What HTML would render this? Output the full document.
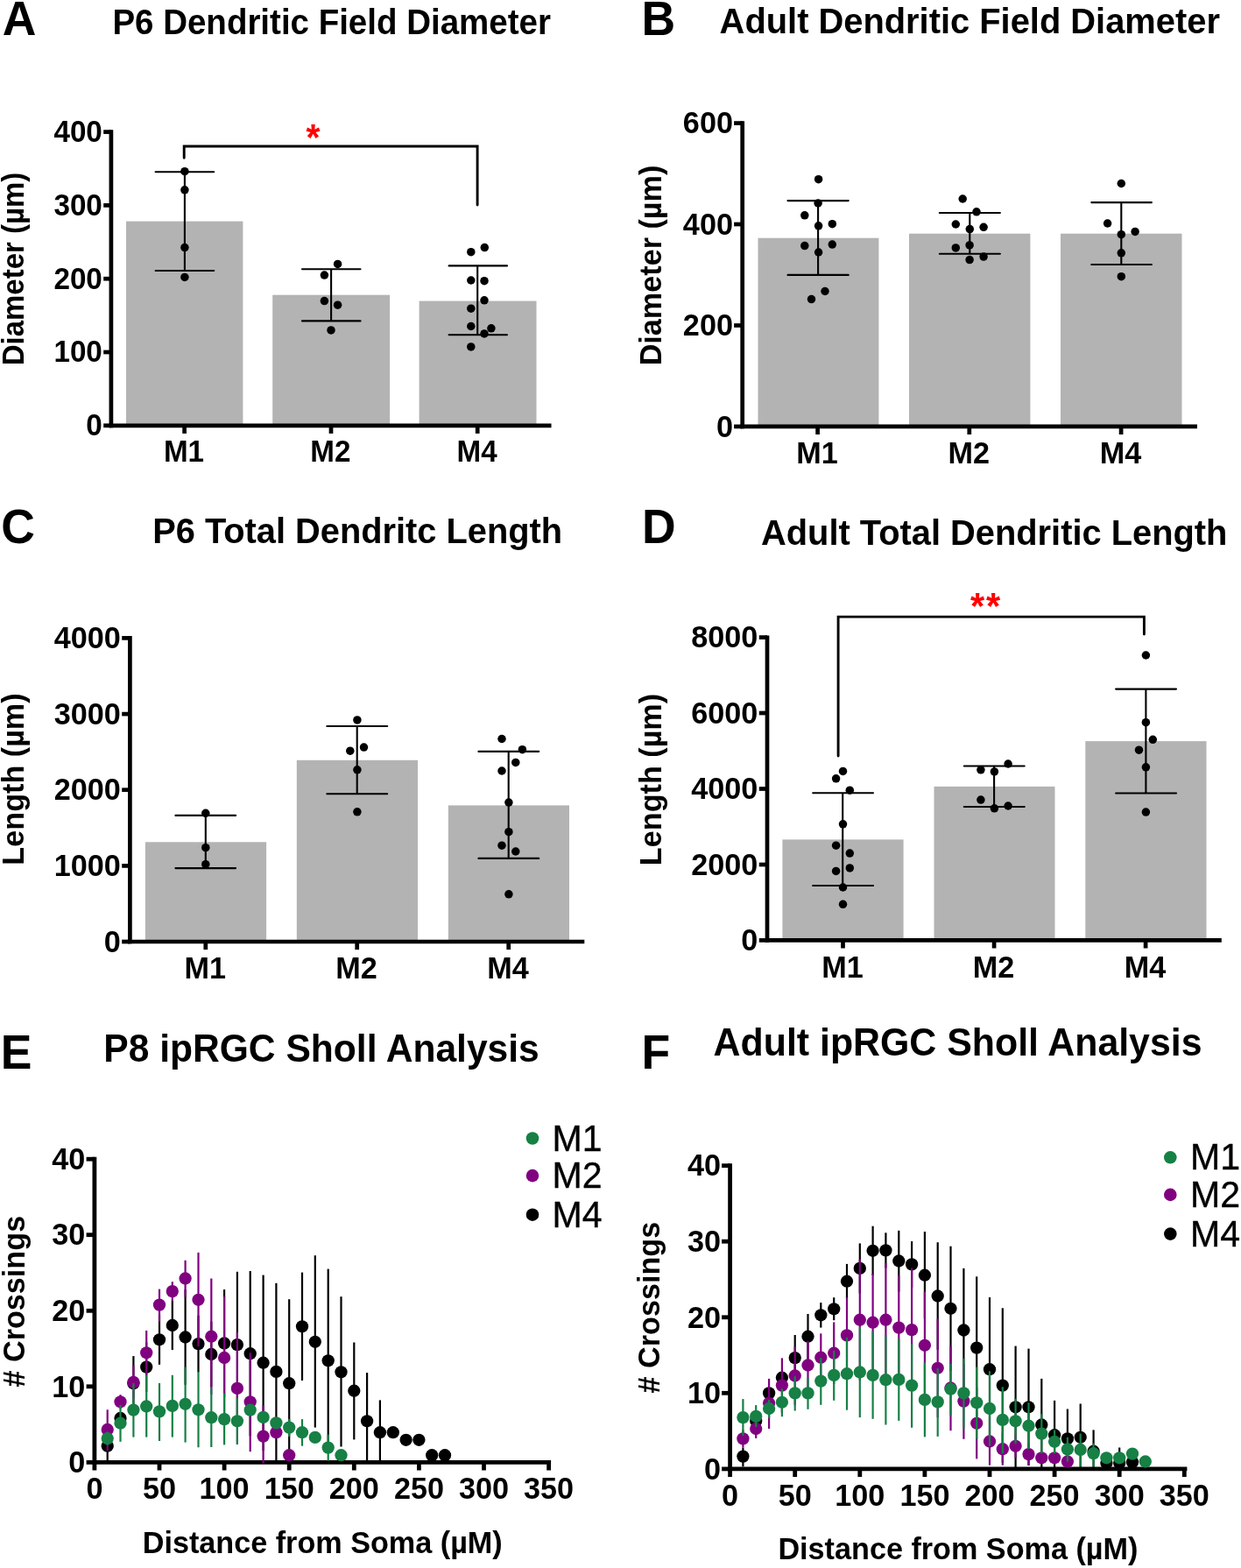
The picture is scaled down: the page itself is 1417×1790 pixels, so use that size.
<!DOCTYPE html>
<html lang="en"><head><meta charset="utf-8"><title>ipRGC dendritic morphology</title>
<style>
html,body{margin:0;padding:0;background:#fff;}
body{width:1417px;height:1790px;overflow:hidden;}
svg{display:block;font-family:"Liberation Sans",Arial,Helvetica,sans-serif;}
</style></head><body>
<svg width="1417" height="1790" viewBox="0 0 1417 1790">
<rect width="1417" height="1790" fill="#fff"/>
<text transform="translate(2.7,40.0) scale(1,1.04)" font-size="53.5" text-anchor="start" font-weight="bold" fill="#000">A</text>
<text transform="translate(128.4,39.3) scale(1,1.04)" font-size="38.5" text-anchor="start" font-weight="bold" fill="#000">P6 Dendritic Field Diameter</text>
<rect x="144.0" y="252.6" width="133.4" height="233.2" fill="#b3b3b3"/>
<rect x="311.2" y="336.7" width="133.9" height="149.1" fill="#b3b3b3"/>
<rect x="478.6" y="343.6" width="133.9" height="142.2" fill="#b3b3b3"/>
<line x1="126.9" y1="148.3" x2="126.9" y2="488.2" stroke="#000" stroke-width="4.7" stroke-linecap="butt"/>
<line x1="124.6" y1="485.8" x2="629.5" y2="485.8" stroke="#000" stroke-width="4.7" stroke-linecap="butt"/>
<line x1="118.2" y1="150.6" x2="126.9" y2="150.6" stroke="#000" stroke-width="4.7" stroke-linecap="butt"/>
<text transform="translate(116.8,162.0) scale(1,1.04)" font-size="33.2" text-anchor="end" font-weight="bold" fill="#000">400</text>
<line x1="118.2" y1="234.4" x2="126.9" y2="234.4" stroke="#000" stroke-width="4.7" stroke-linecap="butt"/>
<text transform="translate(116.8,245.8) scale(1,1.04)" font-size="33.2" text-anchor="end" font-weight="bold" fill="#000">300</text>
<line x1="118.2" y1="318.2" x2="126.9" y2="318.2" stroke="#000" stroke-width="4.7" stroke-linecap="butt"/>
<text transform="translate(116.8,329.6) scale(1,1.04)" font-size="33.2" text-anchor="end" font-weight="bold" fill="#000">200</text>
<line x1="118.2" y1="402.0" x2="126.9" y2="402.0" stroke="#000" stroke-width="4.7" stroke-linecap="butt"/>
<text transform="translate(116.8,413.4) scale(1,1.04)" font-size="33.2" text-anchor="end" font-weight="bold" fill="#000">100</text>
<line x1="118.2" y1="485.8" x2="126.9" y2="485.8" stroke="#000" stroke-width="4.7" stroke-linecap="butt"/>
<text transform="translate(116.8,497.2) scale(1,1.04)" font-size="33.2" text-anchor="end" font-weight="bold" fill="#000">0</text>
<line x1="210.6" y1="485.8" x2="210.6" y2="494.9" stroke="#000" stroke-width="4.7" stroke-linecap="butt"/>
<text transform="translate(210.0,526.5) scale(1,1.04)" font-size="33.2" text-anchor="middle" font-weight="bold" fill="#000">M1</text>
<line x1="378.0" y1="485.8" x2="378.0" y2="494.9" stroke="#000" stroke-width="4.7" stroke-linecap="butt"/>
<text transform="translate(377.4,526.5) scale(1,1.04)" font-size="33.2" text-anchor="middle" font-weight="bold" fill="#000">M2</text>
<line x1="545.2" y1="485.8" x2="545.2" y2="494.9" stroke="#000" stroke-width="4.7" stroke-linecap="butt"/>
<text transform="translate(544.6,526.5) scale(1,1.04)" font-size="33.2" text-anchor="middle" font-weight="bold" fill="#000">M4</text>
<line x1="210.9" y1="196.2" x2="210.9" y2="309.0" stroke="#000" stroke-width="2.1" stroke-linecap="butt"/>
<line x1="177.6" y1="196.2" x2="244.2" y2="196.2" stroke="#000" stroke-width="2.1" stroke-linecap="round"/>
<line x1="177.6" y1="309.0" x2="244.2" y2="309.0" stroke="#000" stroke-width="2.1" stroke-linecap="round"/>
<line x1="378.1" y1="307.2" x2="378.1" y2="366.4" stroke="#000" stroke-width="2.1" stroke-linecap="butt"/>
<line x1="345.0" y1="307.2" x2="411.5" y2="307.2" stroke="#000" stroke-width="2.1" stroke-linecap="round"/>
<line x1="345.0" y1="366.4" x2="411.5" y2="366.4" stroke="#000" stroke-width="2.1" stroke-linecap="round"/>
<line x1="545.2" y1="303.4" x2="545.2" y2="382.2" stroke="#000" stroke-width="2.1" stroke-linecap="butt"/>
<line x1="512.6" y1="303.4" x2="579.0" y2="303.4" stroke="#000" stroke-width="2.1" stroke-linecap="round"/>
<line x1="512.6" y1="382.2" x2="579.0" y2="382.2" stroke="#000" stroke-width="2.1" stroke-linecap="round"/>
<circle cx="210.9" cy="195.7" r="4.75" fill="#000"/>
<circle cx="210.9" cy="216.8" r="4.75" fill="#000"/>
<circle cx="210.9" cy="282.6" r="4.75" fill="#000"/>
<circle cx="210.9" cy="316.4" r="4.75" fill="#000"/>
<circle cx="385.6" cy="301.4" r="4.75" fill="#000"/>
<circle cx="370.4" cy="314.1" r="4.75" fill="#000"/>
<circle cx="370.4" cy="343.6" r="4.75" fill="#000"/>
<circle cx="385.6" cy="348.2" r="4.75" fill="#000"/>
<circle cx="378.0" cy="376.9" r="4.75" fill="#000"/>
<circle cx="553.3" cy="282.6" r="4.75" fill="#000"/>
<circle cx="537.8" cy="287.7" r="4.75" fill="#000"/>
<circle cx="537.8" cy="320.0" r="4.75" fill="#000"/>
<circle cx="553.0" cy="320.7" r="4.75" fill="#000"/>
<circle cx="553.0" cy="342.8" r="4.75" fill="#000"/>
<circle cx="537.8" cy="352.2" r="4.75" fill="#000"/>
<circle cx="537.8" cy="372.5" r="4.75" fill="#000"/>
<circle cx="560.9" cy="374.8" r="4.75" fill="#000"/>
<circle cx="553.0" cy="380.9" r="4.75" fill="#000"/>
<circle cx="537.8" cy="395.9" r="4.75" fill="#000"/>
<text transform="translate(26.8,307.0) rotate(-90) scale(1,1.04)" font-size="33" text-anchor="middle" font-weight="bold">Diameter (µm)</text>
<polyline points="210.2,180.3 210.2,167 545.1,167 545.1,234" fill="none" stroke="#000" stroke-width="2.9" stroke-linecap="round" stroke-linejoin="miter"/>
<text transform="translate(357.5,171.0) scale(1,1.04)" font-size="41" text-anchor="middle" font-weight="bold" fill="#f00">*</text>
<text transform="translate(732.4,40.0) scale(1,1.04)" font-size="53.5" text-anchor="start" font-weight="bold" fill="#000">B</text>
<text transform="translate(821.6,37.9) scale(1,1.04)" font-size="39.87" text-anchor="start" font-weight="bold" fill="#000">Adult Dendritic Field Diameter</text>
<rect x="865.5" y="271.7" width="137.9" height="215.2" fill="#b3b3b3"/>
<rect x="1038.0" y="266.7" width="138.4" height="220.2" fill="#b3b3b3"/>
<rect x="1211.0" y="266.7" width="138.5" height="220.2" fill="#b3b3b3"/>
<line x1="847.7" y1="138.3" x2="847.7" y2="489.2" stroke="#000" stroke-width="4.7" stroke-linecap="butt"/>
<line x1="845.4" y1="486.9" x2="1367.0" y2="486.9" stroke="#000" stroke-width="4.7" stroke-linecap="butt"/>
<line x1="838.1" y1="140.6" x2="847.7" y2="140.6" stroke="#000" stroke-width="4.7" stroke-linecap="butt"/>
<text transform="translate(836.9,152.3) scale(1,1.04)" font-size="34.2" text-anchor="end" font-weight="bold" fill="#000">600</text>
<line x1="838.1" y1="256.0" x2="847.7" y2="256.0" stroke="#000" stroke-width="4.7" stroke-linecap="butt"/>
<text transform="translate(836.9,267.7) scale(1,1.04)" font-size="34.2" text-anchor="end" font-weight="bold" fill="#000">400</text>
<line x1="838.1" y1="371.5" x2="847.7" y2="371.5" stroke="#000" stroke-width="4.7" stroke-linecap="butt"/>
<text transform="translate(836.9,383.2) scale(1,1.04)" font-size="34.2" text-anchor="end" font-weight="bold" fill="#000">200</text>
<line x1="838.1" y1="486.9" x2="847.7" y2="486.9" stroke="#000" stroke-width="4.7" stroke-linecap="butt"/>
<text transform="translate(836.9,498.6) scale(1,1.04)" font-size="34.2" text-anchor="end" font-weight="bold" fill="#000">0</text>
<line x1="933.6" y1="486.9" x2="933.6" y2="496.0" stroke="#000" stroke-width="4.7" stroke-linecap="butt"/>
<text transform="translate(933.0,529.2) scale(1,1.04)" font-size="34.2" text-anchor="middle" font-weight="bold" fill="#000">M1</text>
<line x1="1106.8" y1="486.9" x2="1106.8" y2="496.0" stroke="#000" stroke-width="4.7" stroke-linecap="butt"/>
<text transform="translate(1106.2,529.2) scale(1,1.04)" font-size="34.2" text-anchor="middle" font-weight="bold" fill="#000">M2</text>
<line x1="1280.1" y1="486.9" x2="1280.1" y2="496.0" stroke="#000" stroke-width="4.7" stroke-linecap="butt"/>
<text transform="translate(1279.5,529.2) scale(1,1.04)" font-size="34.2" text-anchor="middle" font-weight="bold" fill="#000">M4</text>
<line x1="934.1" y1="229.1" x2="934.1" y2="313.9" stroke="#000" stroke-width="2.1" stroke-linecap="butt"/>
<line x1="899.5" y1="229.1" x2="968.7" y2="229.1" stroke="#000" stroke-width="2.1" stroke-linecap="round"/>
<line x1="899.5" y1="313.9" x2="968.7" y2="313.9" stroke="#000" stroke-width="2.1" stroke-linecap="round"/>
<line x1="1107.3" y1="243.0" x2="1107.3" y2="289.8" stroke="#000" stroke-width="2.1" stroke-linecap="butt"/>
<line x1="1072.8" y1="243.0" x2="1141.9" y2="243.0" stroke="#000" stroke-width="2.1" stroke-linecap="round"/>
<line x1="1072.8" y1="289.8" x2="1141.9" y2="289.8" stroke="#000" stroke-width="2.1" stroke-linecap="round"/>
<line x1="1280.3" y1="231.1" x2="1280.3" y2="302.0" stroke="#000" stroke-width="2.1" stroke-linecap="butt"/>
<line x1="1246.3" y1="231.1" x2="1314.9" y2="231.1" stroke="#000" stroke-width="2.1" stroke-linecap="round"/>
<line x1="1246.3" y1="302.0" x2="1314.9" y2="302.0" stroke="#000" stroke-width="2.1" stroke-linecap="round"/>
<circle cx="934.6" cy="204.7" r="4.75" fill="#000"/>
<circle cx="934.1" cy="231.9" r="4.75" fill="#000"/>
<circle cx="918.8" cy="245.8" r="4.75" fill="#000"/>
<circle cx="950.3" cy="255.7" r="4.75" fill="#000"/>
<circle cx="934.6" cy="257.8" r="4.75" fill="#000"/>
<circle cx="918.8" cy="280.6" r="4.75" fill="#000"/>
<circle cx="950.3" cy="279.1" r="4.75" fill="#000"/>
<circle cx="934.6" cy="288.0" r="4.75" fill="#000"/>
<circle cx="942.0" cy="332.5" r="4.75" fill="#000"/>
<circle cx="926.5" cy="341.6" r="4.75" fill="#000"/>
<circle cx="1099.2" cy="227.0" r="4.75" fill="#000"/>
<circle cx="1115.0" cy="241.8" r="4.75" fill="#000"/>
<circle cx="1091.3" cy="256.0" r="4.75" fill="#000"/>
<circle cx="1123.1" cy="259.3" r="4.75" fill="#000"/>
<circle cx="1107.3" cy="261.6" r="4.75" fill="#000"/>
<circle cx="1107.1" cy="279.9" r="4.75" fill="#000"/>
<circle cx="1091.3" cy="282.9" r="4.75" fill="#000"/>
<circle cx="1123.1" cy="293.1" r="4.75" fill="#000"/>
<circle cx="1107.1" cy="296.6" r="4.75" fill="#000"/>
<circle cx="1280.3" cy="209.5" r="4.75" fill="#000"/>
<circle cx="1264.6" cy="255.0" r="4.75" fill="#000"/>
<circle cx="1296.1" cy="264.4" r="4.75" fill="#000"/>
<circle cx="1280.3" cy="267.7" r="4.75" fill="#000"/>
<circle cx="1280.3" cy="288.8" r="4.75" fill="#000"/>
<circle cx="1280.3" cy="315.7" r="4.75" fill="#000"/>
<text transform="translate(754.5,303.0) rotate(-90) scale(1,1.04)" font-size="34.2" text-anchor="middle" font-weight="bold">Diameter (µm)</text>
<text transform="translate(1.3,619.6) scale(1,1.04)" font-size="53.5" text-anchor="start" font-weight="bold" fill="#000">C</text>
<text transform="translate(174.2,620.2) scale(1,1.04)" font-size="39.8" text-anchor="start" font-weight="bold" fill="#000">P6 Total Dendritc Length</text>
<rect x="165.9" y="961.3" width="138.2" height="113.7" fill="#b3b3b3"/>
<rect x="338.8" y="867.8" width="138.2" height="207.2" fill="#b3b3b3"/>
<rect x="511.8" y="919.4" width="138.2" height="155.6" fill="#b3b3b3"/>
<line x1="148.4" y1="726.1" x2="148.4" y2="1077.3" stroke="#000" stroke-width="4.7" stroke-linecap="butt"/>
<line x1="146.1" y1="1075.0" x2="667.3" y2="1075.0" stroke="#000" stroke-width="4.7" stroke-linecap="butt"/>
<line x1="139.2" y1="728.4" x2="148.4" y2="728.4" stroke="#000" stroke-width="4.7" stroke-linecap="butt"/>
<text transform="translate(137.7,740.1) scale(1,1.04)" font-size="34.2" text-anchor="end" font-weight="bold" fill="#000">4000</text>
<line x1="139.2" y1="815.1" x2="148.4" y2="815.1" stroke="#000" stroke-width="4.7" stroke-linecap="butt"/>
<text transform="translate(137.7,826.8) scale(1,1.04)" font-size="34.2" text-anchor="end" font-weight="bold" fill="#000">3000</text>
<line x1="139.2" y1="901.7" x2="148.4" y2="901.7" stroke="#000" stroke-width="4.7" stroke-linecap="butt"/>
<text transform="translate(137.7,913.4) scale(1,1.04)" font-size="34.2" text-anchor="end" font-weight="bold" fill="#000">2000</text>
<line x1="139.2" y1="988.4" x2="148.4" y2="988.4" stroke="#000" stroke-width="4.7" stroke-linecap="butt"/>
<text transform="translate(137.7,1000.1) scale(1,1.04)" font-size="34.2" text-anchor="end" font-weight="bold" fill="#000">1000</text>
<line x1="139.2" y1="1075.0" x2="148.4" y2="1075.0" stroke="#000" stroke-width="4.7" stroke-linecap="butt"/>
<text transform="translate(137.7,1086.7) scale(1,1.04)" font-size="34.2" text-anchor="end" font-weight="bold" fill="#000">0</text>
<line x1="234.8" y1="1075.0" x2="234.8" y2="1084.1" stroke="#000" stroke-width="4.7" stroke-linecap="butt"/>
<text transform="translate(234.2,1117.3) scale(1,1.04)" font-size="34.2" text-anchor="middle" font-weight="bold" fill="#000">M1</text>
<line x1="407.7" y1="1075.0" x2="407.7" y2="1084.1" stroke="#000" stroke-width="4.7" stroke-linecap="butt"/>
<text transform="translate(407.1,1117.3) scale(1,1.04)" font-size="34.2" text-anchor="middle" font-weight="bold" fill="#000">M2</text>
<line x1="580.7" y1="1075.0" x2="580.7" y2="1084.1" stroke="#000" stroke-width="4.7" stroke-linecap="butt"/>
<text transform="translate(580.1,1117.3) scale(1,1.04)" font-size="34.2" text-anchor="middle" font-weight="bold" fill="#000">M4</text>
<line x1="234.8" y1="930.9" x2="234.8" y2="991.1" stroke="#000" stroke-width="2.1" stroke-linecap="butt"/>
<line x1="200.4" y1="930.9" x2="269.1" y2="930.9" stroke="#000" stroke-width="2.1" stroke-linecap="round"/>
<line x1="200.4" y1="991.1" x2="269.1" y2="991.1" stroke="#000" stroke-width="2.1" stroke-linecap="round"/>
<line x1="407.7" y1="829.0" x2="407.7" y2="906.2" stroke="#000" stroke-width="2.1" stroke-linecap="butt"/>
<line x1="373.3" y1="829.0" x2="442.2" y2="829.0" stroke="#000" stroke-width="2.1" stroke-linecap="round"/>
<line x1="373.3" y1="906.2" x2="442.2" y2="906.2" stroke="#000" stroke-width="2.1" stroke-linecap="round"/>
<line x1="580.7" y1="857.9" x2="580.7" y2="979.9" stroke="#000" stroke-width="2.1" stroke-linecap="butt"/>
<line x1="546.4" y1="857.9" x2="615.2" y2="857.9" stroke="#000" stroke-width="2.1" stroke-linecap="round"/>
<line x1="546.4" y1="979.9" x2="615.2" y2="979.9" stroke="#000" stroke-width="2.1" stroke-linecap="round"/>
<circle cx="234.8" cy="928.3" r="4.75" fill="#000"/>
<circle cx="234.8" cy="967.7" r="4.75" fill="#000"/>
<circle cx="234.8" cy="986.7" r="4.75" fill="#000"/>
<circle cx="407.9" cy="821.9" r="4.75" fill="#000"/>
<circle cx="415.5" cy="853.1" r="4.75" fill="#000"/>
<circle cx="399.8" cy="857.2" r="4.75" fill="#000"/>
<circle cx="407.9" cy="878.8" r="4.75" fill="#000"/>
<circle cx="407.9" cy="926.8" r="4.75" fill="#000"/>
<circle cx="573.0" cy="843.5" r="4.75" fill="#000"/>
<circle cx="596.4" cy="855.7" r="4.75" fill="#000"/>
<circle cx="588.8" cy="870.4" r="4.75" fill="#000"/>
<circle cx="573.0" cy="880.0" r="4.75" fill="#000"/>
<circle cx="580.9" cy="916.1" r="4.75" fill="#000"/>
<circle cx="580.9" cy="949.7" r="4.75" fill="#000"/>
<circle cx="573.0" cy="965.2" r="4.75" fill="#000"/>
<circle cx="588.8" cy="972.0" r="4.75" fill="#000"/>
<circle cx="580.9" cy="1020.8" r="4.75" fill="#000"/>
<text transform="translate(27.3,889.5) rotate(-90) scale(1,1.04)" font-size="34.2" text-anchor="middle" font-weight="bold">Length (µm)</text>
<text transform="translate(732.9,620.2) scale(1,1.04)" font-size="53.5" text-anchor="start" font-weight="bold" fill="#000">D</text>
<text transform="translate(869.0,621.9) scale(1,1.04)" font-size="39.84" text-anchor="start" font-weight="bold" fill="#000">Adult Total Dendritic Length</text>
<rect x="893.4" y="958.4" width="138.2" height="115.0" fill="#b3b3b3"/>
<rect x="1066.5" y="897.9" width="138.0" height="175.5" fill="#b3b3b3"/>
<rect x="1239.3" y="846.1" width="138.2" height="227.3" fill="#b3b3b3"/>
<line x1="876.0" y1="725.4" x2="876.0" y2="1075.8" stroke="#000" stroke-width="4.7" stroke-linecap="butt"/>
<line x1="873.6" y1="1073.4" x2="1394.8" y2="1073.4" stroke="#000" stroke-width="4.7" stroke-linecap="butt"/>
<line x1="866.8" y1="727.6" x2="876.0" y2="727.6" stroke="#000" stroke-width="4.7" stroke-linecap="butt"/>
<text transform="translate(865.3,739.3) scale(1,1.04)" font-size="34.2" text-anchor="end" font-weight="bold" fill="#000">8000</text>
<line x1="866.8" y1="814.0" x2="876.0" y2="814.0" stroke="#000" stroke-width="4.7" stroke-linecap="butt"/>
<text transform="translate(865.3,825.8) scale(1,1.04)" font-size="34.2" text-anchor="end" font-weight="bold" fill="#000">6000</text>
<line x1="866.8" y1="900.5" x2="876.0" y2="900.5" stroke="#000" stroke-width="4.7" stroke-linecap="butt"/>
<text transform="translate(865.3,912.2) scale(1,1.04)" font-size="34.2" text-anchor="end" font-weight="bold" fill="#000">4000</text>
<line x1="866.8" y1="987.0" x2="876.0" y2="987.0" stroke="#000" stroke-width="4.7" stroke-linecap="butt"/>
<text transform="translate(865.3,998.7) scale(1,1.04)" font-size="34.2" text-anchor="end" font-weight="bold" fill="#000">2000</text>
<line x1="866.8" y1="1073.4" x2="876.0" y2="1073.4" stroke="#000" stroke-width="4.7" stroke-linecap="butt"/>
<text transform="translate(865.3,1085.1) scale(1,1.04)" font-size="34.2" text-anchor="end" font-weight="bold" fill="#000">0</text>
<line x1="962.5" y1="1073.4" x2="962.5" y2="1082.5" stroke="#000" stroke-width="4.7" stroke-linecap="butt"/>
<text transform="translate(961.9,1115.7) scale(1,1.04)" font-size="34.2" text-anchor="middle" font-weight="bold" fill="#000">M1</text>
<line x1="1135.1" y1="1073.4" x2="1135.1" y2="1082.5" stroke="#000" stroke-width="4.7" stroke-linecap="butt"/>
<text transform="translate(1134.5,1115.7) scale(1,1.04)" font-size="34.2" text-anchor="middle" font-weight="bold" fill="#000">M2</text>
<line x1="1308.1" y1="1073.4" x2="1308.1" y2="1082.5" stroke="#000" stroke-width="4.7" stroke-linecap="butt"/>
<text transform="translate(1307.5,1115.7) scale(1,1.04)" font-size="34.2" text-anchor="middle" font-weight="bold" fill="#000">M4</text>
<line x1="962.2" y1="905.3" x2="962.2" y2="1011.0" stroke="#000" stroke-width="2.1" stroke-linecap="butt"/>
<line x1="928.2" y1="905.3" x2="997.0" y2="905.3" stroke="#000" stroke-width="2.1" stroke-linecap="round"/>
<line x1="928.2" y1="1011.0" x2="997.0" y2="1011.0" stroke="#000" stroke-width="2.1" stroke-linecap="round"/>
<line x1="1135.1" y1="874.5" x2="1135.1" y2="921.0" stroke="#000" stroke-width="2.1" stroke-linecap="butt"/>
<line x1="1100.8" y1="874.5" x2="1169.7" y2="874.5" stroke="#000" stroke-width="2.1" stroke-linecap="round"/>
<line x1="1100.8" y1="921.0" x2="1169.7" y2="921.0" stroke="#000" stroke-width="2.1" stroke-linecap="round"/>
<line x1="1308.4" y1="786.6" x2="1308.4" y2="905.5" stroke="#000" stroke-width="2.1" stroke-linecap="butt"/>
<line x1="1274.1" y1="786.6" x2="1343.0" y2="786.6" stroke="#000" stroke-width="2.1" stroke-linecap="round"/>
<line x1="1274.1" y1="905.5" x2="1343.0" y2="905.5" stroke="#000" stroke-width="2.1" stroke-linecap="round"/>
<circle cx="962.5" cy="880.4" r="4.75" fill="#000"/>
<circle cx="954.6" cy="888.8" r="4.75" fill="#000"/>
<circle cx="970.3" cy="902.2" r="4.75" fill="#000"/>
<circle cx="962.5" cy="940.8" r="4.75" fill="#000"/>
<circle cx="954.6" cy="965.2" r="4.75" fill="#000"/>
<circle cx="970.3" cy="974.1" r="4.75" fill="#000"/>
<circle cx="970.3" cy="990.9" r="4.75" fill="#000"/>
<circle cx="954.6" cy="994.4" r="4.75" fill="#000"/>
<circle cx="962.5" cy="1013.0" r="4.75" fill="#000"/>
<circle cx="962.5" cy="1032.3" r="4.75" fill="#000"/>
<circle cx="1151.1" cy="872.0" r="4.75" fill="#000"/>
<circle cx="1119.9" cy="878.8" r="4.75" fill="#000"/>
<circle cx="1135.4" cy="880.9" r="4.75" fill="#000"/>
<circle cx="1119.9" cy="913.1" r="4.75" fill="#000"/>
<circle cx="1151.1" cy="920.0" r="4.75" fill="#000"/>
<circle cx="1135.4" cy="922.8" r="4.75" fill="#000"/>
<circle cx="1308.4" cy="748.0" r="4.75" fill="#000"/>
<circle cx="1308.4" cy="824.7" r="4.75" fill="#000"/>
<circle cx="1316.3" cy="844.3" r="4.75" fill="#000"/>
<circle cx="1300.5" cy="856.2" r="4.75" fill="#000"/>
<circle cx="1308.4" cy="875.8" r="4.75" fill="#000"/>
<circle cx="1308.4" cy="927.1" r="4.75" fill="#000"/>
<text transform="translate(754.9,890.0) rotate(-90) scale(1,1.04)" font-size="34.2" text-anchor="middle" font-weight="bold">Length (µm)</text>
<polyline points="957.1,863 957.1,704.1 1306.4,704.1 1306.4,724" fill="none" stroke="#000" stroke-width="2.9" stroke-linecap="round" stroke-linejoin="miter"/>
<text transform="translate(1116.0,705.5) scale(1,1.04)" font-size="41.5" text-anchor="middle" font-weight="bold" fill="#f00">*</text>
<text transform="translate(1134.0,705.5) scale(1,1.04)" font-size="41.5" text-anchor="middle" font-weight="bold" fill="#f00">*</text>
<text transform="translate(0.8,1220.0) scale(1,1.04)" font-size="53.5" text-anchor="start" font-weight="bold" fill="#000">E</text>
<text transform="translate(118.3,1212.4) scale(1,1.04)" font-size="42.58" text-anchor="start" font-weight="bold" fill="#000">P8 ipRGC Sholl Analysis</text>
<line x1="107.9" y1="1320.8" x2="107.9" y2="1671.8" stroke="#000" stroke-width="4.8" stroke-linecap="butt"/>
<line x1="105.5" y1="1669.4" x2="629.1" y2="1669.4" stroke="#000" stroke-width="4.8" stroke-linecap="butt"/>
<line x1="122.7" y1="1632.0" x2="122.7" y2="1669.3" stroke="#000" stroke-width="2.2" stroke-linecap="butt"/>
<circle cx="122.7" cy="1650.7" r="7.15" fill="#000"/>
<circle cx="137.5" cy="1619.0" r="7.15" fill="#000"/>
<line x1="152.4" y1="1548.1" x2="152.4" y2="1610.4" stroke="#000" stroke-width="2.2" stroke-linecap="butt"/>
<circle cx="152.4" cy="1579.2" r="7.15" fill="#000"/>
<line x1="167.2" y1="1532.2" x2="167.2" y2="1589.0" stroke="#000" stroke-width="2.2" stroke-linecap="butt"/>
<circle cx="167.2" cy="1560.6" r="7.15" fill="#000"/>
<line x1="182.0" y1="1500.7" x2="182.0" y2="1557.8" stroke="#000" stroke-width="2.2" stroke-linecap="butt"/>
<circle cx="182.0" cy="1529.3" r="7.15" fill="#000"/>
<line x1="196.8" y1="1484.9" x2="196.8" y2="1541.1" stroke="#000" stroke-width="2.2" stroke-linecap="butt"/>
<circle cx="196.8" cy="1513.0" r="7.15" fill="#000"/>
<line x1="211.6" y1="1472.1" x2="211.6" y2="1580.9" stroke="#000" stroke-width="2.2" stroke-linecap="butt"/>
<circle cx="211.6" cy="1526.5" r="7.15" fill="#000"/>
<line x1="226.5" y1="1501.7" x2="226.5" y2="1566.6" stroke="#000" stroke-width="2.2" stroke-linecap="butt"/>
<circle cx="226.5" cy="1534.1" r="7.15" fill="#000"/>
<line x1="241.3" y1="1508.6" x2="241.3" y2="1583.3" stroke="#000" stroke-width="2.2" stroke-linecap="butt"/>
<circle cx="241.3" cy="1546.0" r="7.15" fill="#000"/>
<line x1="256.1" y1="1472.1" x2="256.1" y2="1594.8" stroke="#000" stroke-width="2.2" stroke-linecap="butt"/>
<circle cx="256.1" cy="1533.5" r="7.15" fill="#000"/>
<line x1="270.9" y1="1451.8" x2="270.9" y2="1618.4" stroke="#000" stroke-width="2.2" stroke-linecap="butt"/>
<circle cx="270.9" cy="1535.1" r="7.15" fill="#000"/>
<line x1="285.7" y1="1451.0" x2="285.7" y2="1639.3" stroke="#000" stroke-width="2.2" stroke-linecap="butt"/>
<circle cx="285.7" cy="1545.2" r="7.15" fill="#000"/>
<line x1="300.6" y1="1455.6" x2="300.6" y2="1655.9" stroke="#000" stroke-width="2.2" stroke-linecap="butt"/>
<circle cx="300.6" cy="1555.7" r="7.15" fill="#000"/>
<line x1="315.4" y1="1464.8" x2="315.4" y2="1667.1" stroke="#000" stroke-width="2.2" stroke-linecap="butt"/>
<circle cx="315.4" cy="1565.9" r="7.15" fill="#000"/>
<line x1="330.2" y1="1483.2" x2="330.2" y2="1670.1" stroke="#000" stroke-width="2.2" stroke-linecap="butt"/>
<circle cx="330.2" cy="1579.2" r="7.15" fill="#000"/>
<line x1="345.0" y1="1452.6" x2="345.0" y2="1576.0" stroke="#000" stroke-width="2.2" stroke-linecap="butt"/>
<circle cx="345.0" cy="1514.3" r="7.15" fill="#000"/>
<line x1="359.8" y1="1433.2" x2="359.8" y2="1629.6" stroke="#000" stroke-width="2.2" stroke-linecap="butt"/>
<circle cx="359.8" cy="1531.8" r="7.15" fill="#000"/>
<line x1="374.7" y1="1448.6" x2="374.7" y2="1658.0" stroke="#000" stroke-width="2.2" stroke-linecap="butt"/>
<circle cx="374.7" cy="1553.3" r="7.15" fill="#000"/>
<line x1="389.5" y1="1480.2" x2="389.5" y2="1651.5" stroke="#000" stroke-width="2.2" stroke-linecap="butt"/>
<circle cx="389.5" cy="1566.3" r="7.15" fill="#000"/>
<line x1="404.3" y1="1532.5" x2="404.3" y2="1643.4" stroke="#000" stroke-width="2.2" stroke-linecap="butt"/>
<circle cx="404.3" cy="1587.7" r="7.15" fill="#000"/>
<line x1="419.1" y1="1567.1" x2="419.1" y2="1670.1" stroke="#000" stroke-width="2.2" stroke-linecap="butt"/>
<circle cx="419.1" cy="1622.3" r="7.15" fill="#000"/>
<line x1="433.9" y1="1598.4" x2="433.9" y2="1670.1" stroke="#000" stroke-width="2.2" stroke-linecap="butt"/>
<circle cx="433.9" cy="1635.2" r="7.15" fill="#000"/>
<circle cx="448.8" cy="1635.2" r="7.15" fill="#000"/>
<circle cx="463.6" cy="1643.8" r="7.15" fill="#000"/>
<circle cx="478.4" cy="1643.8" r="7.15" fill="#000"/>
<circle cx="493.2" cy="1661.2" r="7.15" fill="#000"/>
<circle cx="508.0" cy="1661.2" r="7.15" fill="#000"/>
<line x1="122.7" y1="1609.3" x2="122.7" y2="1656.3" stroke="#800080" stroke-width="2.2" stroke-linecap="butt"/>
<circle cx="122.7" cy="1632.0" r="7.15" fill="#800080"/>
<line x1="137.5" y1="1592.2" x2="137.5" y2="1608.5" stroke="#800080" stroke-width="2.2" stroke-linecap="butt"/>
<circle cx="137.5" cy="1600.3" r="7.15" fill="#800080"/>
<line x1="152.4" y1="1559.0" x2="152.4" y2="1596.3" stroke="#800080" stroke-width="2.2" stroke-linecap="butt"/>
<circle cx="152.4" cy="1577.9" r="7.15" fill="#800080"/>
<line x1="167.2" y1="1518.9" x2="167.2" y2="1569.5" stroke="#800080" stroke-width="2.2" stroke-linecap="butt"/>
<circle cx="167.2" cy="1544.3" r="7.15" fill="#800080"/>
<line x1="182.0" y1="1471.6" x2="182.0" y2="1508.6" stroke="#800080" stroke-width="2.2" stroke-linecap="butt"/>
<circle cx="182.0" cy="1489.6" r="7.15" fill="#800080"/>
<line x1="196.8" y1="1463.2" x2="196.8" y2="1485.1" stroke="#800080" stroke-width="2.2" stroke-linecap="butt"/>
<circle cx="196.8" cy="1474.1" r="7.15" fill="#800080"/>
<line x1="211.6" y1="1438.8" x2="211.6" y2="1480.6" stroke="#800080" stroke-width="2.2" stroke-linecap="butt"/>
<circle cx="211.6" cy="1459.5" r="7.15" fill="#800080"/>
<line x1="226.5" y1="1429.9" x2="226.5" y2="1537.0" stroke="#800080" stroke-width="2.2" stroke-linecap="butt"/>
<circle cx="226.5" cy="1483.8" r="7.15" fill="#800080"/>
<line x1="241.3" y1="1459.5" x2="241.3" y2="1591.9" stroke="#800080" stroke-width="2.2" stroke-linecap="butt"/>
<circle cx="241.3" cy="1525.7" r="7.15" fill="#800080"/>
<line x1="256.1" y1="1480.2" x2="256.1" y2="1619.8" stroke="#800080" stroke-width="2.2" stroke-linecap="butt"/>
<circle cx="256.1" cy="1550.0" r="7.15" fill="#800080"/>
<line x1="270.9" y1="1521.1" x2="270.9" y2="1648.7" stroke="#800080" stroke-width="2.2" stroke-linecap="butt"/>
<circle cx="270.9" cy="1584.9" r="7.15" fill="#800080"/>
<line x1="285.7" y1="1544.3" x2="285.7" y2="1657.2" stroke="#800080" stroke-width="2.2" stroke-linecap="butt"/>
<circle cx="285.7" cy="1600.3" r="7.15" fill="#800080"/>
<line x1="300.6" y1="1604.4" x2="300.6" y2="1670.5" stroke="#800080" stroke-width="2.2" stroke-linecap="butt"/>
<circle cx="300.6" cy="1639.6" r="7.15" fill="#800080"/>
<circle cx="315.4" cy="1635.2" r="7.15" fill="#800080"/>
<circle cx="330.2" cy="1661.2" r="7.15" fill="#800080"/>
<line x1="122.7" y1="1634.4" x2="122.7" y2="1649.8" stroke="#168045" stroke-width="2.2" stroke-linecap="butt"/>
<circle cx="122.7" cy="1642.1" r="7.15" fill="#168045"/>
<line x1="137.5" y1="1603.9" x2="137.5" y2="1645.8" stroke="#168045" stroke-width="2.2" stroke-linecap="butt"/>
<circle cx="137.5" cy="1624.7" r="7.15" fill="#168045"/>
<line x1="152.4" y1="1578.9" x2="152.4" y2="1640.6" stroke="#168045" stroke-width="2.2" stroke-linecap="butt"/>
<circle cx="152.4" cy="1609.6" r="7.15" fill="#168045"/>
<line x1="167.2" y1="1569.5" x2="167.2" y2="1640.6" stroke="#168045" stroke-width="2.2" stroke-linecap="butt"/>
<circle cx="167.2" cy="1605.5" r="7.15" fill="#168045"/>
<line x1="182.0" y1="1578.9" x2="182.0" y2="1645.0" stroke="#168045" stroke-width="2.2" stroke-linecap="butt"/>
<circle cx="182.0" cy="1611.4" r="7.15" fill="#168045"/>
<line x1="196.8" y1="1569.8" x2="196.8" y2="1640.6" stroke="#168045" stroke-width="2.2" stroke-linecap="butt"/>
<circle cx="196.8" cy="1604.9" r="7.15" fill="#168045"/>
<line x1="211.6" y1="1560.6" x2="211.6" y2="1646.6" stroke="#168045" stroke-width="2.2" stroke-linecap="butt"/>
<circle cx="211.6" cy="1602.8" r="7.15" fill="#168045"/>
<line x1="226.5" y1="1566.3" x2="226.5" y2="1652.3" stroke="#168045" stroke-width="2.2" stroke-linecap="butt"/>
<circle cx="226.5" cy="1609.3" r="7.15" fill="#168045"/>
<line x1="241.3" y1="1584.1" x2="241.3" y2="1652.0" stroke="#168045" stroke-width="2.2" stroke-linecap="butt"/>
<circle cx="241.3" cy="1618.2" r="7.15" fill="#168045"/>
<line x1="256.1" y1="1590.6" x2="256.1" y2="1649.4" stroke="#168045" stroke-width="2.2" stroke-linecap="butt"/>
<circle cx="256.1" cy="1620.1" r="7.15" fill="#168045"/>
<line x1="270.9" y1="1595.5" x2="270.9" y2="1649.0" stroke="#168045" stroke-width="2.2" stroke-linecap="butt"/>
<circle cx="270.9" cy="1622.3" r="7.15" fill="#168045"/>
<circle cx="285.7" cy="1609.6" r="7.15" fill="#168045"/>
<circle cx="300.6" cy="1617.9" r="7.15" fill="#168045"/>
<circle cx="315.4" cy="1624.4" r="7.15" fill="#168045"/>
<line x1="330.2" y1="1619.8" x2="330.2" y2="1640.1" stroke="#168045" stroke-width="2.2" stroke-linecap="butt"/>
<circle cx="330.2" cy="1629.6" r="7.15" fill="#168045"/>
<line x1="345.0" y1="1620.1" x2="345.0" y2="1650.7" stroke="#168045" stroke-width="2.2" stroke-linecap="butt"/>
<circle cx="345.0" cy="1635.2" r="7.15" fill="#168045"/>
<circle cx="359.8" cy="1640.9" r="7.15" fill="#168045"/>
<line x1="374.7" y1="1637.7" x2="374.7" y2="1667.7" stroke="#168045" stroke-width="2.2" stroke-linecap="butt"/>
<circle cx="374.7" cy="1652.6" r="7.15" fill="#168045"/>
<circle cx="389.5" cy="1661.2" r="7.15" fill="#168045"/>
<line x1="98.6" y1="1323.2" x2="107.9" y2="1323.2" stroke="#000" stroke-width="4.8" stroke-linecap="butt"/>
<text transform="translate(97.3,1334.9) scale(1,1.04)" font-size="34.2" text-anchor="end" font-weight="bold" fill="#000">40</text>
<line x1="98.6" y1="1409.7" x2="107.9" y2="1409.7" stroke="#000" stroke-width="4.8" stroke-linecap="butt"/>
<text transform="translate(97.3,1421.4) scale(1,1.04)" font-size="34.2" text-anchor="end" font-weight="bold" fill="#000">30</text>
<line x1="98.6" y1="1496.3" x2="107.9" y2="1496.3" stroke="#000" stroke-width="4.8" stroke-linecap="butt"/>
<text transform="translate(97.3,1508.0) scale(1,1.04)" font-size="34.2" text-anchor="end" font-weight="bold" fill="#000">20</text>
<line x1="98.6" y1="1582.8" x2="107.9" y2="1582.8" stroke="#000" stroke-width="4.8" stroke-linecap="butt"/>
<text transform="translate(97.3,1594.5) scale(1,1.04)" font-size="34.2" text-anchor="end" font-weight="bold" fill="#000">10</text>
<line x1="98.6" y1="1669.4" x2="107.9" y2="1669.4" stroke="#000" stroke-width="4.8" stroke-linecap="butt"/>
<text transform="translate(97.3,1681.1) scale(1,1.04)" font-size="34.2" text-anchor="end" font-weight="bold" fill="#000">0</text>
<line x1="107.9" y1="1669.4" x2="107.9" y2="1678.5" stroke="#000" stroke-width="4.8" stroke-linecap="butt"/>
<text transform="translate(107.9,1711.4) scale(1,1.04)" font-size="34.2" text-anchor="middle" font-weight="bold" fill="#000">0</text>
<line x1="182.0" y1="1669.4" x2="182.0" y2="1678.5" stroke="#000" stroke-width="4.8" stroke-linecap="butt"/>
<text transform="translate(182.0,1711.4) scale(1,1.04)" font-size="34.2" text-anchor="middle" font-weight="bold" fill="#000">50</text>
<line x1="256.1" y1="1669.4" x2="256.1" y2="1678.5" stroke="#000" stroke-width="4.8" stroke-linecap="butt"/>
<text transform="translate(256.1,1711.4) scale(1,1.04)" font-size="34.2" text-anchor="middle" font-weight="bold" fill="#000">100</text>
<line x1="330.2" y1="1669.4" x2="330.2" y2="1678.5" stroke="#000" stroke-width="4.8" stroke-linecap="butt"/>
<text transform="translate(330.2,1711.4) scale(1,1.04)" font-size="34.2" text-anchor="middle" font-weight="bold" fill="#000">150</text>
<line x1="404.3" y1="1669.4" x2="404.3" y2="1678.5" stroke="#000" stroke-width="4.8" stroke-linecap="butt"/>
<text transform="translate(404.3,1711.4) scale(1,1.04)" font-size="34.2" text-anchor="middle" font-weight="bold" fill="#000">200</text>
<line x1="478.4" y1="1669.4" x2="478.4" y2="1678.5" stroke="#000" stroke-width="4.8" stroke-linecap="butt"/>
<text transform="translate(478.4,1711.4) scale(1,1.04)" font-size="34.2" text-anchor="middle" font-weight="bold" fill="#000">250</text>
<line x1="552.5" y1="1669.4" x2="552.5" y2="1678.5" stroke="#000" stroke-width="4.8" stroke-linecap="butt"/>
<text transform="translate(552.5,1711.4) scale(1,1.04)" font-size="34.2" text-anchor="middle" font-weight="bold" fill="#000">300</text>
<line x1="626.6" y1="1669.4" x2="626.6" y2="1678.5" stroke="#000" stroke-width="4.8" stroke-linecap="butt"/>
<text transform="translate(626.6,1711.4) scale(1,1.04)" font-size="34.2" text-anchor="middle" font-weight="bold" fill="#000">350</text>
<text transform="translate(27.5,1485.7) rotate(-90) scale(1,1.04)" font-size="34.2" text-anchor="middle" font-weight="bold"># Crossings</text>
<text transform="translate(368.2,1772.7) scale(1,1.04)" font-size="34.2" text-anchor="middle" font-weight="bold" fill="#000">Distance from Soma (µM)</text>
<circle cx="608.0" cy="1299.5" r="7.3" fill="#168045"/>
<text transform="translate(630.4,1313.7) scale(1,1.04)" font-size="41.1" text-anchor="start" font-weight="normal" fill="#000" stroke="#000" stroke-width="0.35">M1</text>
<circle cx="608.0" cy="1342.1" r="7.3" fill="#800080"/>
<text transform="translate(630.4,1355.8) scale(1,1.04)" font-size="41.1" text-anchor="start" font-weight="normal" fill="#000" stroke="#000" stroke-width="0.35">M2</text>
<circle cx="608.0" cy="1386.7" r="7.3" fill="#000"/>
<text transform="translate(630.4,1400.6) scale(1,1.04)" font-size="41.1" text-anchor="start" font-weight="normal" fill="#000" stroke="#000" stroke-width="0.35">M4</text>
<text transform="translate(732.6,1220.0) scale(1,1.04)" font-size="53.5" text-anchor="start" font-weight="bold" fill="#000">F</text>
<text transform="translate(814.6,1204.6) scale(1,1.04)" font-size="42.86" text-anchor="start" font-weight="bold" fill="#000">Adult ipRGC Sholl Analysis</text>
<line x1="833.6" y1="1328.3" x2="833.6" y2="1679.3" stroke="#000" stroke-width="4.8" stroke-linecap="butt"/>
<line x1="831.2" y1="1676.9" x2="1355.4" y2="1676.9" stroke="#000" stroke-width="4.8" stroke-linecap="butt"/>
<line x1="848.4" y1="1652.5" x2="848.4" y2="1674.3" stroke="#000" stroke-width="2.2" stroke-linecap="butt"/>
<circle cx="848.4" cy="1662.6" r="7.15" fill="#000"/>
<circle cx="863.2" cy="1621.9" r="7.15" fill="#000"/>
<circle cx="878.1" cy="1590.4" r="7.15" fill="#000"/>
<circle cx="892.9" cy="1572.7" r="7.15" fill="#000"/>
<line x1="907.7" y1="1524.0" x2="907.7" y2="1576.1" stroke="#000" stroke-width="2.2" stroke-linecap="butt"/>
<circle cx="907.7" cy="1550.1" r="7.15" fill="#000"/>
<line x1="922.5" y1="1500.0" x2="922.5" y2="1551.4" stroke="#000" stroke-width="2.2" stroke-linecap="butt"/>
<circle cx="922.5" cy="1525.7" r="7.15" fill="#000"/>
<line x1="937.3" y1="1487.1" x2="937.3" y2="1515.6" stroke="#000" stroke-width="2.2" stroke-linecap="butt"/>
<circle cx="937.3" cy="1501.3" r="7.15" fill="#000"/>
<line x1="952.2" y1="1481.2" x2="952.2" y2="1507.2" stroke="#000" stroke-width="2.2" stroke-linecap="butt"/>
<circle cx="952.2" cy="1494.3" r="7.15" fill="#000"/>
<line x1="967.0" y1="1442.9" x2="967.0" y2="1482.5" stroke="#000" stroke-width="2.2" stroke-linecap="butt"/>
<circle cx="967.0" cy="1462.7" r="7.15" fill="#000"/>
<line x1="981.8" y1="1419.4" x2="981.8" y2="1476.5" stroke="#000" stroke-width="2.2" stroke-linecap="butt"/>
<circle cx="981.8" cy="1447.9" r="7.15" fill="#000"/>
<line x1="996.6" y1="1399.7" x2="996.6" y2="1456.0" stroke="#000" stroke-width="2.2" stroke-linecap="butt"/>
<circle cx="996.6" cy="1427.8" r="7.15" fill="#000"/>
<line x1="1011.4" y1="1407.3" x2="1011.4" y2="1447.6" stroke="#000" stroke-width="2.2" stroke-linecap="butt"/>
<circle cx="1011.4" cy="1427.4" r="7.15" fill="#000"/>
<line x1="1026.3" y1="1404.8" x2="1026.3" y2="1474.5" stroke="#000" stroke-width="2.2" stroke-linecap="butt"/>
<circle cx="1026.3" cy="1439.5" r="7.15" fill="#000"/>
<line x1="1041.1" y1="1417.0" x2="1041.1" y2="1469.8" stroke="#000" stroke-width="2.2" stroke-linecap="butt"/>
<circle cx="1041.1" cy="1443.4" r="7.15" fill="#000"/>
<line x1="1055.9" y1="1406.0" x2="1055.9" y2="1505.4" stroke="#000" stroke-width="2.2" stroke-linecap="butt"/>
<circle cx="1055.9" cy="1455.7" r="7.15" fill="#000"/>
<line x1="1070.7" y1="1418.2" x2="1070.7" y2="1540.8" stroke="#000" stroke-width="2.2" stroke-linecap="butt"/>
<circle cx="1070.7" cy="1479.5" r="7.15" fill="#000"/>
<line x1="1085.5" y1="1422.7" x2="1085.5" y2="1564.8" stroke="#000" stroke-width="2.2" stroke-linecap="butt"/>
<circle cx="1085.5" cy="1493.8" r="7.15" fill="#000"/>
<line x1="1100.4" y1="1447.9" x2="1100.4" y2="1589.0" stroke="#000" stroke-width="2.2" stroke-linecap="butt"/>
<circle cx="1100.4" cy="1518.5" r="7.15" fill="#000"/>
<line x1="1115.2" y1="1457.3" x2="1115.2" y2="1619.9" stroke="#000" stroke-width="2.2" stroke-linecap="butt"/>
<circle cx="1115.2" cy="1538.6" r="7.15" fill="#000"/>
<line x1="1130.0" y1="1480.9" x2="1130.0" y2="1645.5" stroke="#000" stroke-width="2.2" stroke-linecap="butt"/>
<circle cx="1130.0" cy="1563.2" r="7.15" fill="#000"/>
<line x1="1144.8" y1="1493.3" x2="1144.8" y2="1670.0" stroke="#000" stroke-width="2.2" stroke-linecap="butt"/>
<circle cx="1144.8" cy="1581.6" r="7.15" fill="#000"/>
<line x1="1159.6" y1="1536.6" x2="1159.6" y2="1676.0" stroke="#000" stroke-width="2.2" stroke-linecap="butt"/>
<circle cx="1159.6" cy="1606.3" r="7.15" fill="#000"/>
<line x1="1174.5" y1="1539.6" x2="1174.5" y2="1673.0" stroke="#000" stroke-width="2.2" stroke-linecap="butt"/>
<circle cx="1174.5" cy="1606.3" r="7.15" fill="#000"/>
<line x1="1189.3" y1="1573.9" x2="1189.3" y2="1677.7" stroke="#000" stroke-width="2.2" stroke-linecap="butt"/>
<circle cx="1189.3" cy="1626.5" r="7.15" fill="#000"/>
<line x1="1204.1" y1="1598.8" x2="1204.1" y2="1677.7" stroke="#000" stroke-width="2.2" stroke-linecap="butt"/>
<circle cx="1204.1" cy="1638.2" r="7.15" fill="#000"/>
<line x1="1218.9" y1="1608.5" x2="1218.9" y2="1676.4" stroke="#000" stroke-width="2.2" stroke-linecap="butt"/>
<circle cx="1218.9" cy="1642.4" r="7.15" fill="#000"/>
<line x1="1233.7" y1="1602.5" x2="1233.7" y2="1677.7" stroke="#000" stroke-width="2.2" stroke-linecap="butt"/>
<circle cx="1233.7" cy="1640.8" r="7.15" fill="#000"/>
<line x1="1248.6" y1="1632.4" x2="1248.6" y2="1677.7" stroke="#000" stroke-width="2.2" stroke-linecap="butt"/>
<circle cx="1248.6" cy="1656.7" r="7.15" fill="#000"/>
<circle cx="1263.4" cy="1670.1" r="7.15" fill="#000"/>
<line x1="1278.2" y1="1652.5" x2="1278.2" y2="1677.7" stroke="#000" stroke-width="2.2" stroke-linecap="butt"/>
<circle cx="1278.2" cy="1670.1" r="7.15" fill="#000"/>
<circle cx="1293.0" cy="1669.3" r="7.15" fill="#000"/>
<line x1="848.4" y1="1632.4" x2="848.4" y2="1652.5" stroke="#800080" stroke-width="2.2" stroke-linecap="butt"/>
<circle cx="848.4" cy="1642.4" r="7.15" fill="#800080"/>
<line x1="863.2" y1="1620.6" x2="863.2" y2="1641.9" stroke="#800080" stroke-width="2.2" stroke-linecap="butt"/>
<circle cx="863.2" cy="1631.0" r="7.15" fill="#800080"/>
<line x1="878.1" y1="1573.9" x2="878.1" y2="1631.0" stroke="#800080" stroke-width="2.2" stroke-linecap="butt"/>
<circle cx="878.1" cy="1601.8" r="7.15" fill="#800080"/>
<line x1="892.9" y1="1550.4" x2="892.9" y2="1613.0" stroke="#800080" stroke-width="2.2" stroke-linecap="butt"/>
<circle cx="892.9" cy="1581.6" r="7.15" fill="#800080"/>
<line x1="907.7" y1="1537.5" x2="907.7" y2="1603.8" stroke="#800080" stroke-width="2.2" stroke-linecap="butt"/>
<circle cx="907.7" cy="1570.5" r="7.15" fill="#800080"/>
<line x1="922.5" y1="1530.7" x2="922.5" y2="1586.2" stroke="#800080" stroke-width="2.2" stroke-linecap="butt"/>
<circle cx="922.5" cy="1558.5" r="7.15" fill="#800080"/>
<line x1="937.3" y1="1522.3" x2="937.3" y2="1576.9" stroke="#800080" stroke-width="2.2" stroke-linecap="butt"/>
<circle cx="937.3" cy="1549.7" r="7.15" fill="#800080"/>
<line x1="952.2" y1="1509.4" x2="952.2" y2="1580.0" stroke="#800080" stroke-width="2.2" stroke-linecap="butt"/>
<circle cx="952.2" cy="1544.7" r="7.15" fill="#800080"/>
<line x1="967.0" y1="1481.2" x2="967.0" y2="1567.5" stroke="#800080" stroke-width="2.2" stroke-linecap="butt"/>
<circle cx="967.0" cy="1524.4" r="7.15" fill="#800080"/>
<line x1="981.8" y1="1437.5" x2="981.8" y2="1575.9" stroke="#800080" stroke-width="2.2" stroke-linecap="butt"/>
<circle cx="981.8" cy="1506.7" r="7.15" fill="#800080"/>
<line x1="996.6" y1="1454.0" x2="996.6" y2="1565.5" stroke="#800080" stroke-width="2.2" stroke-linecap="butt"/>
<circle cx="996.6" cy="1509.7" r="7.15" fill="#800080"/>
<line x1="1011.4" y1="1441.7" x2="1011.4" y2="1571.9" stroke="#800080" stroke-width="2.2" stroke-linecap="butt"/>
<circle cx="1011.4" cy="1506.7" r="7.15" fill="#800080"/>
<line x1="1026.3" y1="1456.3" x2="1026.3" y2="1574.9" stroke="#800080" stroke-width="2.2" stroke-linecap="butt"/>
<circle cx="1026.3" cy="1515.6" r="7.15" fill="#800080"/>
<line x1="1041.1" y1="1447.6" x2="1041.1" y2="1588.7" stroke="#800080" stroke-width="2.2" stroke-linecap="butt"/>
<circle cx="1041.1" cy="1518.1" r="7.15" fill="#800080"/>
<line x1="1055.9" y1="1474.5" x2="1055.9" y2="1597.1" stroke="#800080" stroke-width="2.2" stroke-linecap="butt"/>
<circle cx="1055.9" cy="1535.8" r="7.15" fill="#800080"/>
<line x1="1070.7" y1="1505.5" x2="1070.7" y2="1618.1" stroke="#800080" stroke-width="2.2" stroke-linecap="butt"/>
<circle cx="1070.7" cy="1561.8" r="7.15" fill="#800080"/>
<line x1="1085.5" y1="1536.6" x2="1085.5" y2="1633.2" stroke="#800080" stroke-width="2.2" stroke-linecap="butt"/>
<circle cx="1085.5" cy="1584.5" r="7.15" fill="#800080"/>
<line x1="1100.4" y1="1556.8" x2="1100.4" y2="1642.8" stroke="#800080" stroke-width="2.2" stroke-linecap="butt"/>
<circle cx="1100.4" cy="1599.6" r="7.15" fill="#800080"/>
<line x1="1115.2" y1="1583.6" x2="1115.2" y2="1665.4" stroke="#800080" stroke-width="2.2" stroke-linecap="butt"/>
<circle cx="1115.2" cy="1624.8" r="7.15" fill="#800080"/>
<line x1="1130.0" y1="1618.1" x2="1130.0" y2="1672.7" stroke="#800080" stroke-width="2.2" stroke-linecap="butt"/>
<circle cx="1130.0" cy="1645.5" r="7.15" fill="#800080"/>
<line x1="1144.8" y1="1635.7" x2="1144.8" y2="1672.7" stroke="#800080" stroke-width="2.2" stroke-linecap="butt"/>
<circle cx="1144.8" cy="1654.2" r="7.15" fill="#800080"/>
<line x1="1159.6" y1="1637.4" x2="1159.6" y2="1664.3" stroke="#800080" stroke-width="2.2" stroke-linecap="butt"/>
<circle cx="1159.6" cy="1650.8" r="7.15" fill="#800080"/>
<line x1="1174.5" y1="1647.5" x2="1174.5" y2="1672.7" stroke="#800080" stroke-width="2.2" stroke-linecap="butt"/>
<circle cx="1174.5" cy="1660.1" r="7.15" fill="#800080"/>
<circle cx="1189.3" cy="1664.3" r="7.15" fill="#800080"/>
<circle cx="1204.1" cy="1664.3" r="7.15" fill="#800080"/>
<circle cx="1218.9" cy="1668.5" r="7.15" fill="#800080"/>
<line x1="848.4" y1="1597.1" x2="848.4" y2="1639.1" stroke="#168045" stroke-width="2.2" stroke-linecap="butt"/>
<circle cx="848.4" cy="1618.1" r="7.15" fill="#168045"/>
<line x1="863.2" y1="1604.1" x2="863.2" y2="1629.0" stroke="#168045" stroke-width="2.2" stroke-linecap="butt"/>
<circle cx="863.2" cy="1616.9" r="7.15" fill="#168045"/>
<line x1="878.1" y1="1597.9" x2="878.1" y2="1618.9" stroke="#168045" stroke-width="2.2" stroke-linecap="butt"/>
<circle cx="878.1" cy="1608.0" r="7.15" fill="#168045"/>
<line x1="892.9" y1="1585.3" x2="892.9" y2="1617.2" stroke="#168045" stroke-width="2.2" stroke-linecap="butt"/>
<circle cx="892.9" cy="1600.8" r="7.15" fill="#168045"/>
<line x1="907.7" y1="1571.1" x2="907.7" y2="1610.5" stroke="#168045" stroke-width="2.2" stroke-linecap="butt"/>
<circle cx="907.7" cy="1590.4" r="7.15" fill="#168045"/>
<line x1="922.5" y1="1572.7" x2="922.5" y2="1608.8" stroke="#168045" stroke-width="2.2" stroke-linecap="butt"/>
<circle cx="922.5" cy="1590.4" r="7.15" fill="#168045"/>
<line x1="937.3" y1="1550.1" x2="937.3" y2="1603.8" stroke="#168045" stroke-width="2.2" stroke-linecap="butt"/>
<circle cx="937.3" cy="1576.6" r="7.15" fill="#168045"/>
<line x1="952.2" y1="1541.7" x2="952.2" y2="1598.8" stroke="#168045" stroke-width="2.2" stroke-linecap="butt"/>
<circle cx="952.2" cy="1569.9" r="7.15" fill="#168045"/>
<line x1="967.0" y1="1526.9" x2="967.0" y2="1609.7" stroke="#168045" stroke-width="2.2" stroke-linecap="butt"/>
<circle cx="967.0" cy="1568.2" r="7.15" fill="#168045"/>
<line x1="981.8" y1="1514.8" x2="981.8" y2="1618.1" stroke="#168045" stroke-width="2.2" stroke-linecap="butt"/>
<circle cx="981.8" cy="1566.5" r="7.15" fill="#168045"/>
<line x1="996.6" y1="1519.8" x2="996.6" y2="1619.8" stroke="#168045" stroke-width="2.2" stroke-linecap="butt"/>
<circle cx="996.6" cy="1569.9" r="7.15" fill="#168045"/>
<line x1="1011.4" y1="1524.0" x2="1011.4" y2="1626.5" stroke="#168045" stroke-width="2.2" stroke-linecap="butt"/>
<circle cx="1011.4" cy="1575.2" r="7.15" fill="#168045"/>
<line x1="1026.3" y1="1528.2" x2="1026.3" y2="1621.9" stroke="#168045" stroke-width="2.2" stroke-linecap="butt"/>
<circle cx="1026.3" cy="1574.9" r="7.15" fill="#168045"/>
<line x1="1041.1" y1="1534.1" x2="1041.1" y2="1629.8" stroke="#168045" stroke-width="2.2" stroke-linecap="butt"/>
<circle cx="1041.1" cy="1581.6" r="7.15" fill="#168045"/>
<line x1="1055.9" y1="1555.4" x2="1055.9" y2="1640.4" stroke="#168045" stroke-width="2.2" stroke-linecap="butt"/>
<circle cx="1055.9" cy="1597.9" r="7.15" fill="#168045"/>
<line x1="1070.7" y1="1562.1" x2="1070.7" y2="1639.9" stroke="#168045" stroke-width="2.2" stroke-linecap="butt"/>
<circle cx="1070.7" cy="1600.4" r="7.15" fill="#168045"/>
<line x1="1085.5" y1="1556.8" x2="1085.5" y2="1615.6" stroke="#168045" stroke-width="2.2" stroke-linecap="butt"/>
<circle cx="1085.5" cy="1585.7" r="7.15" fill="#168045"/>
<line x1="1100.4" y1="1550.9" x2="1100.4" y2="1630.7" stroke="#168045" stroke-width="2.2" stroke-linecap="butt"/>
<circle cx="1100.4" cy="1590.4" r="7.15" fill="#168045"/>
<line x1="1115.2" y1="1560.5" x2="1115.2" y2="1642.4" stroke="#168045" stroke-width="2.2" stroke-linecap="butt"/>
<circle cx="1115.2" cy="1601.3" r="7.15" fill="#168045"/>
<line x1="1130.0" y1="1565.2" x2="1130.0" y2="1650.8" stroke="#168045" stroke-width="2.2" stroke-linecap="butt"/>
<circle cx="1130.0" cy="1608.0" r="7.15" fill="#168045"/>
<line x1="1144.8" y1="1583.3" x2="1144.8" y2="1659.2" stroke="#168045" stroke-width="2.2" stroke-linecap="butt"/>
<circle cx="1144.8" cy="1620.9" r="7.15" fill="#168045"/>
<line x1="1159.6" y1="1596.7" x2="1159.6" y2="1647.8" stroke="#168045" stroke-width="2.2" stroke-linecap="butt"/>
<circle cx="1159.6" cy="1622.3" r="7.15" fill="#168045"/>
<line x1="1174.5" y1="1601.3" x2="1174.5" y2="1654.2" stroke="#168045" stroke-width="2.2" stroke-linecap="butt"/>
<circle cx="1174.5" cy="1627.7" r="7.15" fill="#168045"/>
<line x1="1189.3" y1="1614.2" x2="1189.3" y2="1659.2" stroke="#168045" stroke-width="2.2" stroke-linecap="butt"/>
<circle cx="1189.3" cy="1636.6" r="7.15" fill="#168045"/>
<line x1="1204.1" y1="1632.4" x2="1204.1" y2="1659.2" stroke="#168045" stroke-width="2.2" stroke-linecap="butt"/>
<circle cx="1204.1" cy="1645.8" r="7.15" fill="#168045"/>
<line x1="1218.9" y1="1640.8" x2="1218.9" y2="1668.5" stroke="#168045" stroke-width="2.2" stroke-linecap="butt"/>
<circle cx="1218.9" cy="1654.5" r="7.15" fill="#168045"/>
<line x1="1233.7" y1="1636.6" x2="1233.7" y2="1674.3" stroke="#168045" stroke-width="2.2" stroke-linecap="butt"/>
<circle cx="1233.7" cy="1655.0" r="7.15" fill="#168045"/>
<line x1="1248.6" y1="1647.5" x2="1248.6" y2="1674.3" stroke="#168045" stroke-width="2.2" stroke-linecap="butt"/>
<circle cx="1248.6" cy="1659.2" r="7.15" fill="#168045"/>
<circle cx="1263.4" cy="1664.3" r="7.15" fill="#168045"/>
<circle cx="1278.2" cy="1664.3" r="7.15" fill="#168045"/>
<circle cx="1293.0" cy="1659.6" r="7.15" fill="#168045"/>
<circle cx="1307.8" cy="1668.5" r="7.15" fill="#168045"/>
<line x1="824.1" y1="1330.7" x2="833.6" y2="1330.7" stroke="#000" stroke-width="4.8" stroke-linecap="butt"/>
<text transform="translate(823.0,1342.4) scale(1,1.04)" font-size="34.2" text-anchor="end" font-weight="bold" fill="#000">40</text>
<line x1="824.1" y1="1417.2" x2="833.6" y2="1417.2" stroke="#000" stroke-width="4.8" stroke-linecap="butt"/>
<text transform="translate(823.0,1428.9) scale(1,1.04)" font-size="34.2" text-anchor="end" font-weight="bold" fill="#000">30</text>
<line x1="824.1" y1="1503.8" x2="833.6" y2="1503.8" stroke="#000" stroke-width="4.8" stroke-linecap="butt"/>
<text transform="translate(823.0,1515.5) scale(1,1.04)" font-size="34.2" text-anchor="end" font-weight="bold" fill="#000">20</text>
<line x1="824.1" y1="1590.3" x2="833.6" y2="1590.3" stroke="#000" stroke-width="4.8" stroke-linecap="butt"/>
<text transform="translate(823.0,1602.0) scale(1,1.04)" font-size="34.2" text-anchor="end" font-weight="bold" fill="#000">10</text>
<line x1="824.1" y1="1676.9" x2="833.6" y2="1676.9" stroke="#000" stroke-width="4.8" stroke-linecap="butt"/>
<text transform="translate(823.0,1688.6) scale(1,1.04)" font-size="34.2" text-anchor="end" font-weight="bold" fill="#000">0</text>
<line x1="833.6" y1="1676.9" x2="833.6" y2="1686.0" stroke="#000" stroke-width="4.8" stroke-linecap="butt"/>
<text transform="translate(833.6,1719.0) scale(1,1.04)" font-size="34.2" text-anchor="middle" font-weight="bold" fill="#000">0</text>
<line x1="907.7" y1="1676.9" x2="907.7" y2="1686.0" stroke="#000" stroke-width="4.8" stroke-linecap="butt"/>
<text transform="translate(907.7,1719.0) scale(1,1.04)" font-size="34.2" text-anchor="middle" font-weight="bold" fill="#000">50</text>
<line x1="981.8" y1="1676.9" x2="981.8" y2="1686.0" stroke="#000" stroke-width="4.8" stroke-linecap="butt"/>
<text transform="translate(981.8,1719.0) scale(1,1.04)" font-size="34.2" text-anchor="middle" font-weight="bold" fill="#000">100</text>
<line x1="1055.9" y1="1676.9" x2="1055.9" y2="1686.0" stroke="#000" stroke-width="4.8" stroke-linecap="butt"/>
<text transform="translate(1055.9,1719.0) scale(1,1.04)" font-size="34.2" text-anchor="middle" font-weight="bold" fill="#000">150</text>
<line x1="1130.0" y1="1676.9" x2="1130.0" y2="1686.0" stroke="#000" stroke-width="4.8" stroke-linecap="butt"/>
<text transform="translate(1130.0,1719.0) scale(1,1.04)" font-size="34.2" text-anchor="middle" font-weight="bold" fill="#000">200</text>
<line x1="1204.1" y1="1676.9" x2="1204.1" y2="1686.0" stroke="#000" stroke-width="4.8" stroke-linecap="butt"/>
<text transform="translate(1204.1,1719.0) scale(1,1.04)" font-size="34.2" text-anchor="middle" font-weight="bold" fill="#000">250</text>
<line x1="1278.2" y1="1676.9" x2="1278.2" y2="1686.0" stroke="#000" stroke-width="4.8" stroke-linecap="butt"/>
<text transform="translate(1278.2,1719.0) scale(1,1.04)" font-size="34.2" text-anchor="middle" font-weight="bold" fill="#000">300</text>
<line x1="1352.3" y1="1676.9" x2="1352.3" y2="1686.0" stroke="#000" stroke-width="4.8" stroke-linecap="butt"/>
<text transform="translate(1352.3,1719.0) scale(1,1.04)" font-size="34.2" text-anchor="middle" font-weight="bold" fill="#000">350</text>
<text transform="translate(752.5,1492.6) rotate(-90) scale(1,1.04)" font-size="34.2" text-anchor="middle" font-weight="bold"># Crossings</text>
<text transform="translate(1093.9,1779.8) scale(1,1.04)" font-size="34.2" text-anchor="middle" font-weight="bold" fill="#000">Distance from Soma (µM)</text>
<circle cx="1336.3" cy="1321.3" r="7.3" fill="#168045"/>
<text transform="translate(1359.0,1335.3) scale(1,1.04)" font-size="41.1" text-anchor="start" font-weight="normal" fill="#000" stroke="#000" stroke-width="0.35">M1</text>
<circle cx="1336.3" cy="1363.9" r="7.3" fill="#800080"/>
<text transform="translate(1359.0,1377.9) scale(1,1.04)" font-size="41.1" text-anchor="start" font-weight="normal" fill="#000" stroke="#000" stroke-width="0.35">M2</text>
<circle cx="1336.3" cy="1408.6" r="7.3" fill="#000"/>
<text transform="translate(1359.0,1422.6) scale(1,1.04)" font-size="41.1" text-anchor="start" font-weight="normal" fill="#000" stroke="#000" stroke-width="0.35">M4</text>
</svg>
</body></html>
